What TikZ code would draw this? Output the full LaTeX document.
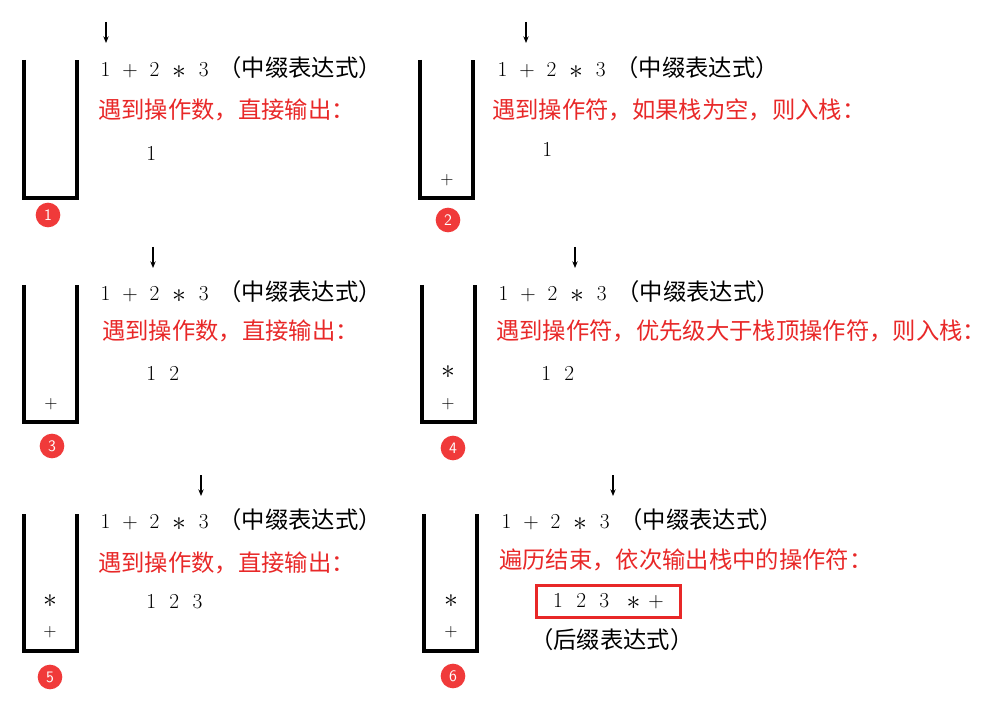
\documentclass[tikz,border=0pt]{standalone}
\usepackage{fontspec}
\newfontfamily\cjk{Noto Sans CJK SC}
\usetikzlibrary{arrows.meta}
\definecolor{myred}{RGB}{232,40,40}
\definecolor{circred}{RGB}{240,58,58}
\newcommand{\bast}{\raisebox{-1pt}{\fontsize{22}{22}\selectfont$\ast$}}
\newcommand{\tk}[1]{\makebox[18.4pt]{#1}}
\newcommand{\expr}{\tk{1}\tk{+}\tk{2}\tk{\bast}\tk{3}\hspace{2pt}{\cjk\fontsize{17.5}{18}\selectfont （中缀表达式）}}
\tikzset{
 stk/.style={line width=2.3pt},
 exprt/.style={anchor=west,inner sep=0pt,font=\fontsize{16}{18}\selectfont},
 redt/.style={anchor=west,inner sep=0pt,text=myred,font=\fontsize{17.5}{18}\selectfont\cjk},
 outt/.style={anchor=west,inner sep=0pt,font=\fontsize{16}{18}\selectfont},
 itm/.style={inner sep=0pt,font=\fontsize{13}{15}\selectfont},
 num/.style={circle,fill=circred,text=white,minimum size=18.5pt,inner sep=0pt,font=\sffamily\fontsize{12}{12}\selectfont},
 ptr/.style={-{Stealth[length=5pt,width=4pt]},line width=0.8pt}
}
\begin{document}
\begin{tikzpicture}[x=0.75pt,y=-0.75pt]
\useasboundingbox (0,0) rectangle (998,716);
% panel 1
\draw[stk] (24,60) -- (24,198) -- (77,198) -- (77,60);
\node[num] (n1) at (48,215) {1};
\coordinate (a1s) at (106,22); \coordinate (a1e) at (106,43);
\draw[ptr] (a1s) -- (a1e);
\node[exprt] (e1) at (93,68) {\expr};
\node[redt] (r1) at (98,110) {遇到操作数，直接输出：};
\node[outt] (o1) at (146,153) {1};
% panel 2
\draw[stk] (420,60) -- (420,198) -- (473,198) -- (473,60);
\node[itm] (p2) at (447,180) {+};
\node[num] (n2) at (448,220) {2};
\coordinate (a2s) at (526,22); \coordinate (a2e) at (526,43);
\draw[ptr] (a2s) -- (a2e);
\node[exprt] (e2) at (490,68) {\expr};
\node[redt] (r2) at (492,110) {遇到操作符，如果栈为空，则入栈：};
\node[outt] (o2) at (542,149) {1};
% panel 3
\draw[stk] (24,285) -- (24,422) -- (77,422) -- (77,285);
\node[itm] (p3) at (51,404) {+};
\node[num] (n3) at (52,446) {3};
\coordinate (a3s) at (153,247); \coordinate (a3e) at (153,268);
\draw[ptr] (a3s) -- (a3e);
\node[exprt] (e3) at (93,292) {\expr};
\node[redt] (r3) at (102,331) {遇到操作数，直接输出：};
\node[outt] (o3) at (146,373) {1\hspace{10pt}2};
% panel 4
\draw[stk] (422,285) -- (422,422) -- (475,422) -- (475,285);
\node[itm] (s4) at (448,372) {\bast};
\node[itm] (p4) at (448,404) {+};
\node[num] (n4) at (453,448) {4};
\coordinate (a4s) at (575,247); \coordinate (a4e) at (575,268);
\draw[ptr] (a4s) -- (a4e);
\node[exprt] (e4) at (491,292) {\expr};
\node[redt] (r4) at (496,331) {遇到操作符，优先级大于栈顶操作符，则入栈：};
\node[outt] (o4) at (541,373) {1\hspace{10pt}2};
% panel 5
\draw[stk] (24,514) -- (24,651) -- (77,651) -- (77,514);
\node[itm] (s5) at (50,601) {\bast};
\node[itm] (p5) at (50,632) {+};
\node[num] (n5) at (50,677) {5};
\coordinate (a5s) at (201,475); \coordinate (a5e) at (201,496);
\draw[ptr] (a5s) -- (a5e);
\node[exprt] (e5) at (93,520) {\expr};
\node[redt] (r5) at (98,563) {遇到操作数，直接输出：};
\node[outt] (o5) at (146,602) {1\hspace{10pt}2\hspace{10pt}3};
% panel 6
\draw[stk] (424,514) -- (424,651) -- (477,651) -- (477,514);
\node[itm] (s6) at (451,601) {\bast};
\node[itm] (p6) at (451,632) {+};
\node[num] (n6) at (453,676) {6};
\coordinate (a6s) at (613,475); \coordinate (a6e) at (613,496);
\draw[ptr] (a6s) -- (a6e);
\node[exprt] (e6) at (494,520) {\expr};
\node[redt] (r6) at (499,560) {遍历结束，依次输出栈中的操作符：};
\node[draw=myred,line width=1.6pt,minimum width=108pt,minimum height=24pt,inner sep=0pt,font=\fontsize{16}{18}\selectfont] (res) at (608.5,601.5) {1\hspace{10pt}2\hspace{10pt}3\hspace{13pt}\bast\hspace{6pt}+};
\node[exprt,font=\fontsize{17.5}{18}\selectfont\cjk] (post) at (530,640) {（后缀表达式）};
\end{tikzpicture}
\end{document}
